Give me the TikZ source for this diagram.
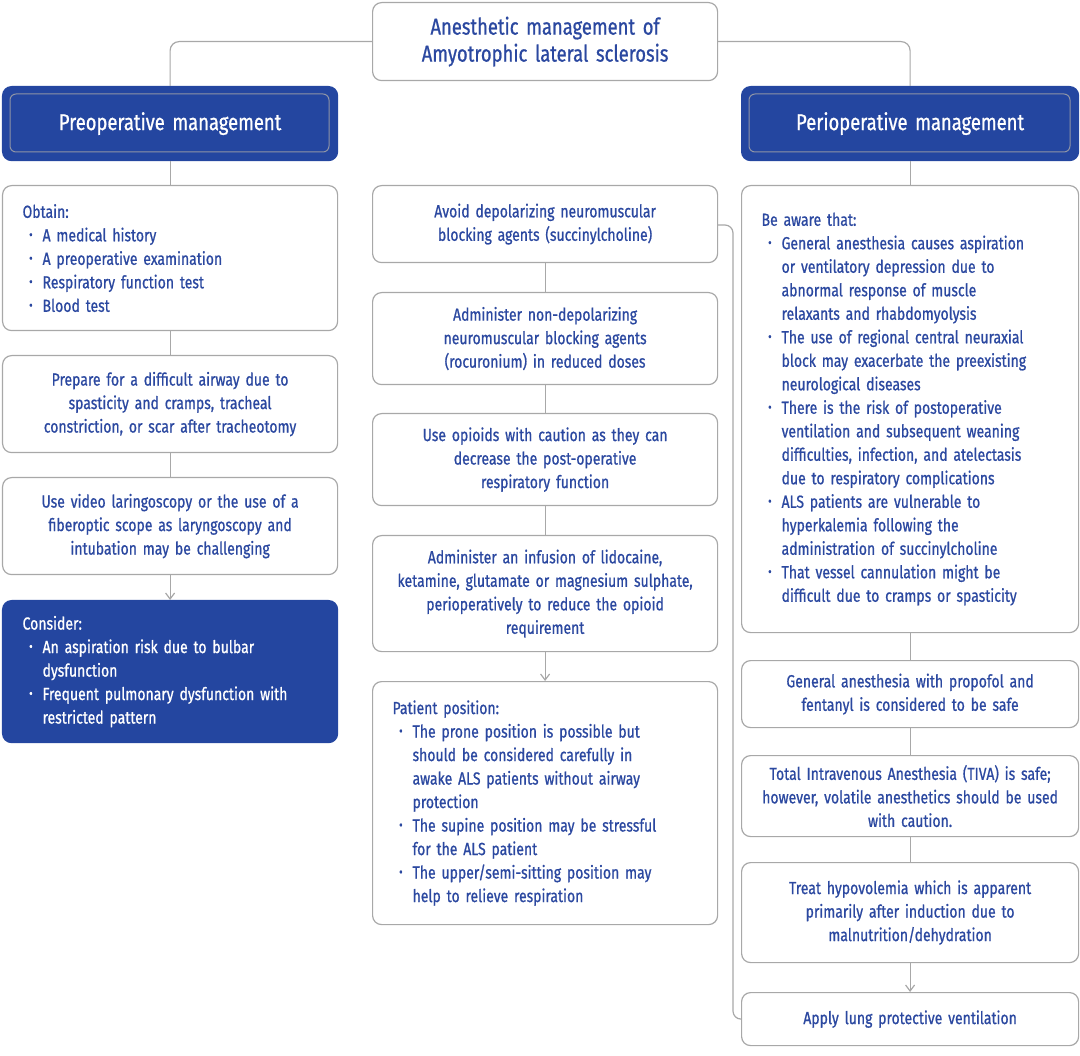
\documentclass[tikz,border=0pt]{standalone}
\usepackage{fontspec}
\setmainfont{Fira Sans}[FakeStretch=0.8,FakeBold=0.8]
\usetikzlibrary{arrows.meta}
\definecolor{txt}{HTML}{2B48A0}
\definecolor{bd}{HTML}{A8A8A8}
\definecolor{hd}{HTML}{2446A0}
\newenvironment{blist}{\begin{list}{\raisebox{0.12em}{\scalebox{0.75}{\textbullet}}}{\leftmargin=20pt\labelsep=10pt\labelwidth=10pt\itemsep=0pt\parsep=0pt\topsep=0pt\partopsep=0pt}\raggedright}{\end{list}}
\begin{document}
\begin{tikzpicture}[x=1pt,y=-1pt,
  font=\fontsize{17.5}{23.5}\selectfont,
  box/.style={draw=bd,line width=1.2pt,rounded corners=9pt,fill=white,text=txt,inner xsep=20pt,inner ysep=0pt,anchor=north west},
  cbox/.style={box,align=center},
  lbox/.style={box,align=left},
  hdr/.style={draw=hd,line width=1.2pt,rounded corners=9pt,fill=hd,text=white,align=center,anchor=north west,inner sep=0pt,font=\fontsize{23}{27}\selectfont},
  ln/.style={draw=bd,line width=1.2pt,rounded corners=9pt},
  ar/.style={ln,-{Straight Barb[length=6pt,width=9pt]}}]
\useasboundingbox (0,0) rectangle (1080,1056);
% title
\node[cbox,minimum width=345pt,minimum height=78pt,text width=305pt,font=\fontsize{23}{27}\selectfont] (t) at (372,2) {Anesthetic management of\\Amyotrophic lateral sclerosis};
% headers
\node[hdr,minimum width=335pt,minimum height=74pt,text width=335pt] (pre) at (2,86) {Preoperative management};
\node[hdr,minimum width=337pt,minimum height=74pt,text width=337pt] (per) at (741,86) {Perioperative management};
\draw[draw=bd!80!hd,line width=1pt,rounded corners=6pt] (10,94) rectangle (329,152);
\draw[draw=bd!80!hd,line width=1pt,rounded corners=6pt] (749,94) rectangle (1070,152);
\draw[ln] (t.west) -| (pre.north);
\draw[ln] (t.east) -| (per.north);
% left column
\node[lbox,minimum width=335pt,minimum height=145pt,text width=295pt] (l1) at (2,185) {\begin{minipage}{295pt}Obtain:\begin{blist}\item A medical history\item A preoperative examination\item Respiratory function test\item Blood test\end{blist}\end{minipage}};
\node[cbox,minimum width=335pt,minimum height=97pt,text width=295pt] (l2) at (2,355) {Prepare for a difficult airway due to\\spasticity and cramps, tracheal\\constriction, or scar after tracheotomy};
\node[cbox,minimum width=335pt,minimum height=97pt,text width=295pt] (l3) at (2,477) {Use video laringoscopy or the use of a\\fiberoptic scope as laryngoscopy and\\intubation may be challenging};
\node[lbox,fill=hd,draw=hd,text=white,minimum width=335pt,minimum height=142pt,text width=295pt] (l4) at (2,600) {\begin{minipage}{295pt}Consider:\begin{blist}\item An aspiration risk due to bulbar\\dysfunction\item Frequent pulmonary dysfunction with\\restricted pattern\end{blist}\end{minipage}};
\draw[ln] (pre.south) -- (l1.north);
\draw[ln] (l1.south) -- (l2.north);
\draw[ln] (l2.south) -- (l3.north);
\draw[ar] (l3.south) -- (l4.north);
% middle column
\node[cbox,minimum width=345pt,minimum height=77pt,text width=305pt] (m1) at (372,185) {Avoid depolarizing neuromuscular\\blocking agents (succinylcholine)};
\node[cbox,minimum width=345pt,minimum height=92pt,text width=305pt] (m2) at (372,292) {Administer non-depolarizing\\neuromuscular blocking agents\\(rocuronium) in reduced doses};
\node[cbox,minimum width=345pt,minimum height=92pt,text width=305pt] (m3) at (372,413) {Use opioids with caution as they can\\decrease the post-operative\\respiratory function};
\node[cbox,minimum width=345pt,minimum height=116pt,text width=305pt] (m4) at (372,535) {Administer an infusion of lidocaine,\\ketamine, glutamate or magnesium sulphate,\\perioperatively to reduce the opioid\\requirement};
\node[lbox,minimum width=345pt,minimum height=243pt,text width=305pt] (m5) at (372,681) {\begin{minipage}{305pt}Patient position:\begin{blist}\item The prone position is possible but\\should be considered carefully in\\awake ALS patients without airway\\protection\item The supine position may be stressful\\for the ALS patient\item The upper/semi-sitting position may\\help to relieve respiration\end{blist}\end{minipage}};
\draw[ln] (m1.south) -- (m2.north);
\draw[ln] (m2.south) -- (m3.north);
\draw[ln] (m3.south) -- (m4.north);
\draw[ar] (m4.south) -- (m5.north);
% right column
\node[lbox,minimum width=337pt,minimum height=447pt,text width=297pt] (r1) at (741,185) {\begin{minipage}{297pt}Be aware that:\begin{blist}\item General anesthesia causes aspiration\\or ventilatory depression due to\\abnormal response of muscle\\relaxants and rhabdomyolysis\item The use of regional central neuraxial\\block may exacerbate the preexisting\\neurological diseases\item There is the risk of postoperative\\ventilation and subsequent weaning\\difficulties, infection, and atelectasis\\due to respiratory complications\item ALS patients are vulnerable to\\hyperkalemia following the\\administration of succinylcholine\item That vessel cannulation might be\\difficult due to cramps or spasticity\end{blist}\end{minipage}};
\node[cbox,minimum width=337pt,minimum height=67pt,text width=297pt] (r2) at (741,660) {General anesthesia with propofol and\\fentanyl is considered to be safe};
\node[cbox,minimum width=337pt,minimum height=81pt,text width=297pt] (r3) at (741,755) {Total Intravenous Anesthesia (TIVA) is safe;\\however, volatile anesthetics should be used\\with caution.};
\node[cbox,minimum width=337pt,minimum height=100pt,text width=297pt] (r4) at (741,862) {Treat hypovolemia which is apparent\\primarily after induction due to\\malnutrition/dehydration};
\node[cbox,minimum width=337pt,minimum height=53pt,text width=297pt] (r5) at (741,992) {Apply lung protective ventilation};
\draw[ln] (per.south) -- (r1.north);
\draw[ln] (r1.south) -- (r2.north);
\draw[ln] (r2.south) -- (r3.north);
\draw[ln] (r3.south) -- (r4.north);
\draw[ar] (r4.south) -- (r5.north);
\coordinate (sx) at (733,0);
\draw[ln,rounded corners=8pt] (m1.east |- 0,225) -- (sx |- 0,225) -- (sx |- r5.west) -- (r5.west);
\end{tikzpicture}
\end{document}
